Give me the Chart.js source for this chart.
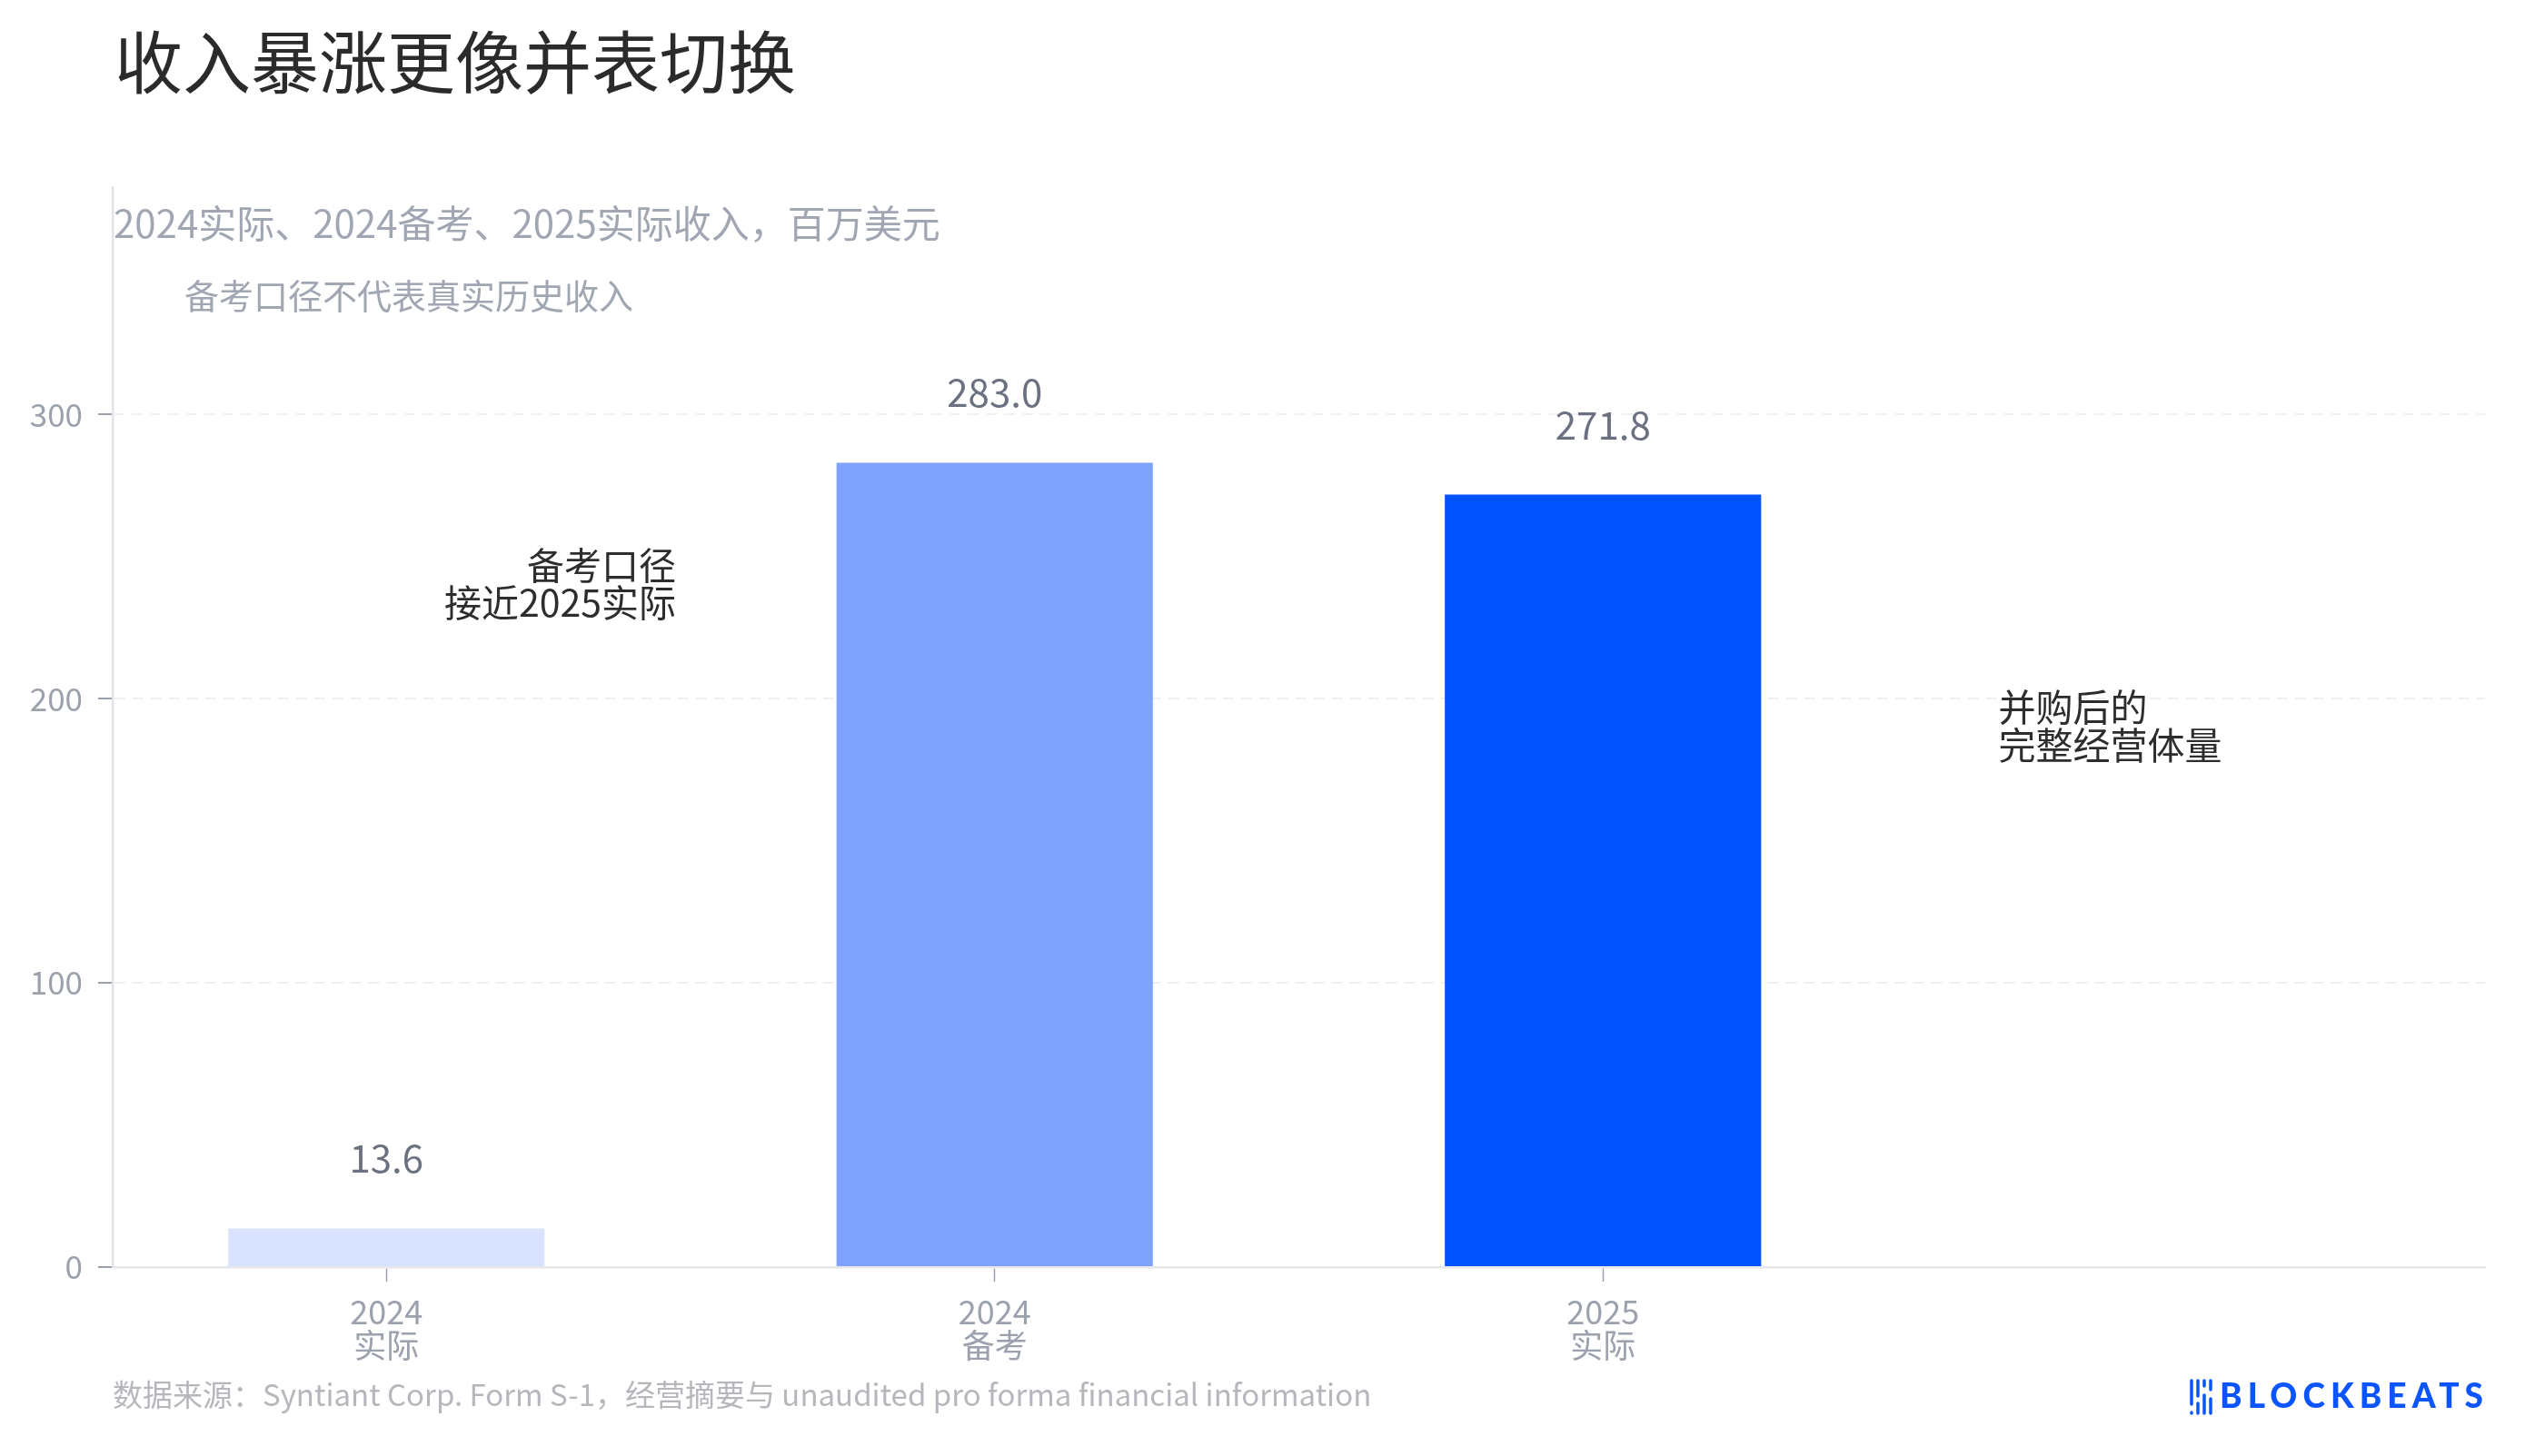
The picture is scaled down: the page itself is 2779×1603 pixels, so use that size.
<!DOCTYPE html>
<html>
<head>
<meta charset="utf-8">
<script src="https://cdn.jsdelivr.net/npm/chart.js@4.4.1/dist/chart.umd.min.js"></script>
<style>
  html, body { margin: 0; padding: 0; background: #ffffff; }
  #wrap { width: 2779px; height: 1603px; }
</style>
</head>
<body>
<div id="wrap"><canvas id="revenueChart" width="2779" height="1603"></canvas></div>
<script>
// chart data
const categories = ['2024\n实际', '2024\n备考', '2025\n实际'];
const revenue = [13.6, 283.0, 271.8];
const barColors = ['#d9e3fd', '#80a2ff', '#0052ff'];
const yTicks = [0, 100, 200, 300];
const yMax = 380;

const titleText = '收入暴涨更像并表切换';
const subtitleText = '2024实际、2024备考、2025实际收入，百万美元';
const noteText = '备考口径不代表真实历史收入';
const leftNote = ['备考口径', '接近2025实际'];
const rightNote = ['并购后的', '完整经营体量'];
const sourceText = '数据来源：Syntiant Corp. Form S-1，经营摘要与 unaudited pro forma financial information';

const FONT = '"Noto Sans CJK SC", "Noto Sans", sans-serif';
const GREY = '#9ba1ad';

function drawLines(ctx, lines, x, yCenter, lineH, align) {
    ctx.textAlign = align;
    let y0 = yCenter - (lines.length - 1) * lineH / 2;
    for (let i = 0; i < lines.length; i++) {
        ctx.fillText(lines[i], x, y0 + i * lineH);
    }
}

// texts, value labels and logo
const decorPlugin = {
    id: 'decor',
    beforeDraw(chart) {
        const ctx = chart.ctx;
        ctx.save();
        ctx.fillStyle = '#ffffff';
        ctx.fillRect(0, 0, chart.width, chart.height);
        ctx.restore();
    },
    afterDatasetsDraw(chart) {
        const ctx = chart.ctx;
        const xs = chart.scales.x;
        const ys = chart.scales.y;
        const area = chart.chartArea;
        ctx.save();
        ctx.textBaseline = 'middle';

        // title
        ctx.fillStyle = '#2b2b2b';
        ctx.font = '75px ' + FONT;
        ctx.textAlign = 'left';
        ctx.fillText(titleText, 126, 68);

        // subtitles
        ctx.fillStyle = '#a0a6b2';
        ctx.font = '42px ' + FONT;
        ctx.fillText(subtitleText, area.left + 1, 246);
        ctx.font = '38px ' + FONT;
        ctx.fillText(noteText, area.left + 79, 326);

        // value labels
        const meta = chart.getDatasetMeta(0);
        ctx.fillStyle = '#6b7180';
        ctx.font = '42px ' + FONT;
        ctx.textAlign = 'center';
        meta.data.forEach(function (bar, i) {
            ctx.fillText(revenue[i].toFixed(1), bar.x, bar.y - 77);
        });

        // annotations
        ctx.fillStyle = '#2d2d2d';
        ctx.font = '41px ' + FONT;
        drawLines(ctx, leftNote, xs.getPixelForValue(0.476), ys.getPixelForValue(240.5), 41, 'right');
        drawLines(ctx, rightNote, xs.getPixelForValue(2.65), ys.getPixelForValue(190.5), 42, 'left');

        // source
        ctx.fillStyle = '#b6b7bc';
        ctx.font = '33px ' + FONT;
        ctx.textAlign = 'left';
        ctx.fillText(sourceText, area.left, 1535);

        // logo
        const blue = '#0b55ff';
        ctx.strokeStyle = blue;
        ctx.lineCap = 'round';
        ctx.lineWidth = 3.5;
        const segs = [
            [2412, 1520, 1546], [2412, 1555, 1556],
            [2419, 1520, 1537], [2419, 1545, 1556],
            [2426, 1520, 1526], [2426, 1536, 1556],
            [2433, 1520, 1530], [2433, 1540, 1556]
        ];
        segs.forEach(function (s) {
            ctx.beginPath();
            ctx.moveTo(s[0], s[1]);
            ctx.lineTo(s[0], s[2]);
            ctx.stroke();
        });
        ctx.fillStyle = blue;
        ctx.font = '900 37px Lato, "DejaVu Sans", sans-serif';
        const w = ctx.measureText('BLOCKBEATS').width;
        ctx.letterSpacing = ((290 - w) / 9).toFixed(2) + 'px';
        ctx.textBaseline = 'alphabetic';
        ctx.fillText('BLOCKBEATS', 2443, 1550);
        ctx.restore();
    }
};

const ctx = document.getElementById('revenueChart').getContext('2d');
const revenueChart = new Chart(ctx, {
    type: 'bar',
    data: {
        datasets: [{
            data: revenue.map(function (v, i) { return { x: i, y: v }; }),
            backgroundColor: barColors,
            borderWidth: 0,
            barPercentage: 0.52,
            categoryPercentage: 1.0
        }]
    },
    plugins: [decorPlugin],
    options: {
        responsive: false,
        animation: false,
        layout: {
            padding: { top: 206, right: 44, left: 0, bottom: 78 }
        },
        plugins: {
            legend: { display: false },
            tooltip: { enabled: false },
            title: { display: false }
        },
        scales: {
            x: {
                type: 'linear',
                offset: false,
                min: -0.45,
                max: 3.45,
                afterBuildTicks: function (scale) {
                    scale.ticks = categories.map(function (c, i) { return { value: i }; });
                },
                afterFit: function (scale) { scale.height = 130; },
                ticks: {
                    color: GREY,
                    font: { family: FONT, size: 36, lineHeight: 1.05 },
                    padding: 14,
                    maxRotation: 0,
                    autoSkip: false,
                    callback: function (value) {
                        const c = categories[value];
                        return c ? c.split('\n') : '';
                    }
                },
                grid: {
                    offset: false,
                    drawOnChartArea: false,
                    drawTicks: true,
                    tickLength: 16,
                    tickColor: GREY,
                    tickWidth: 1.5
                },
                border: { display: true, color: '#e6e6ec', width: 2.5 }
            },
            y: {
                min: 0,
                max: yMax,
                afterBuildTicks: function (scale) {
                    scale.ticks = yTicks.map(function (v) { return { value: v }; });
                },
                afterFit: function (scale) { scale.width = 124; },
                ticks: {
                    color: GREY,
                    font: { family: FONT, size: 35 },
                    padding: 17
                },
                grid: {
                    color: '#f0f0f2',
                    lineWidth: 2,
                    drawTicks: true,
                    tickLength: 16,
                    tickColor: GREY,
                    tickWidth: 2,
                    tickBorderDash: []
                },
                border: { display: true, color: '#e3e3e9', width: 2.5, dash: [12, 8] }
            }
        }
    }
});
</script>
</body>
</html>
